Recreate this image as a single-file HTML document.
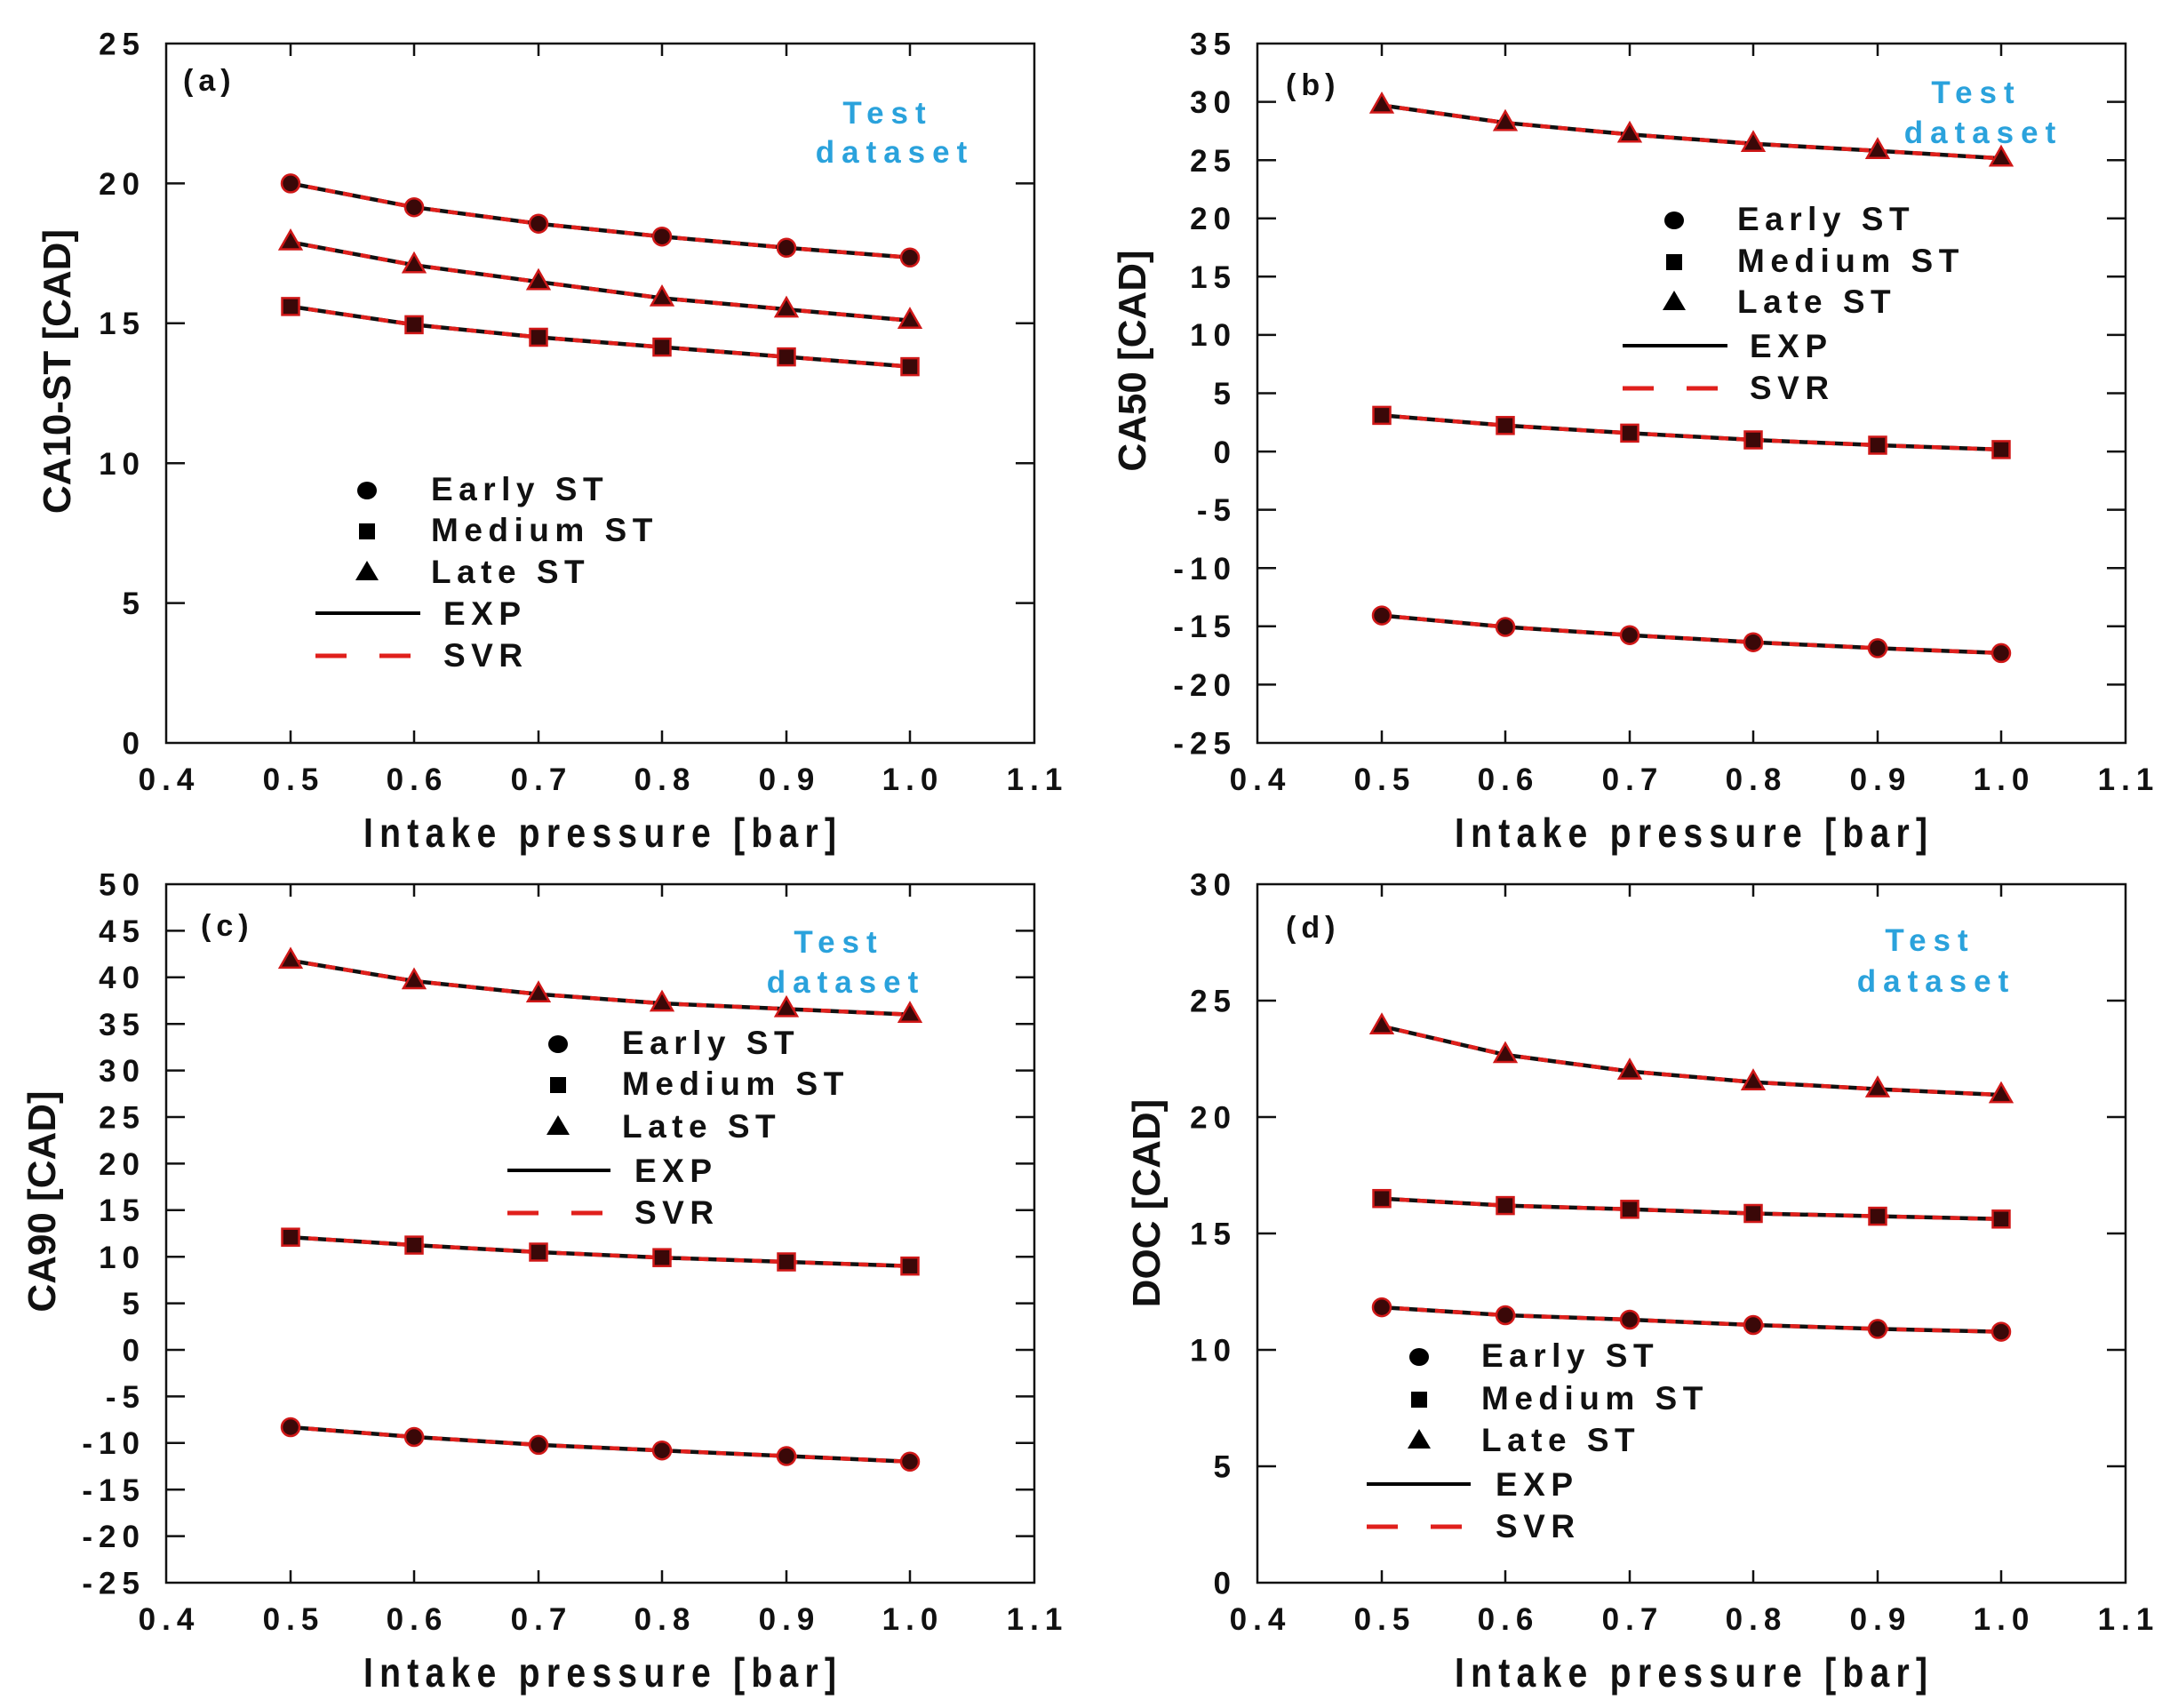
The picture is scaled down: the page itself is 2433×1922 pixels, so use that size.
<!DOCTYPE html>
<html><head><meta charset="utf-8"><style>
html,body{margin:0;padding:0;background:#fff;}
svg{display:block;}
text{font-family:"Liberation Sans",Arial,sans-serif;font-weight:bold;fill:#111;}
.t text{font-size:35px;letter-spacing:7px;}
.lg text{font-size:37px;letter-spacing:6.5px;}
.ts text{font-size:35px;letter-spacing:8px;fill:#2aa2dc;}
text.pl{font-size:34px;letter-spacing:6px;}
text.ax{font-size:46px;}
text.ay{font-size:44px;}
.fr{fill:none;stroke:#111;stroke-width:2.5;}
.tk{stroke:#111;stroke-width:2.5;fill:none;}
.lb{fill:none;stroke:#111;stroke-width:4.5;}
.lr{fill:none;stroke:#e0201c;stroke-width:4.5;stroke-dasharray:11 9;}
</style></head><body>
<svg width="2433" height="1922" viewBox="0 0 2433 1922" xmlns="http://www.w3.org/2000/svg">
<defs>
<circle id="mc" r="10" fill="#3a0808" stroke="#d01818" stroke-width="2.5"/>
<rect id="ms" x="-9.5" y="-9.5" width="19" height="19" fill="#3a0808" stroke="#d01818" stroke-width="2.5"/>
<polygon id="mt" points="0,-13 12,8 -12,8" fill="#3a0808" stroke="#d01818" stroke-width="2.5"/>
<ellipse id="lc" rx="11" ry="10" fill="#000"/>
<rect id="ls" x="-9" y="-9" width="18" height="18" fill="#000"/>
<polygon id="lt" points="0,-12 13,10 -13,10" fill="#000"/>
</defs>
<rect width="2433" height="1922" fill="#fff"/>

<!-- ================= PANEL A ================= -->
<rect class="fr" x="187" y="49" width="977" height="787"/>
<path class="tk" d="M327 836v-14M466 836v-14M606 836v-14M745 836v-14M885 836v-14M1024 836v-14M327 49v14M466 49v14M606 49v14M745 49v14M885 49v14M1024 49v14M187 678.6h21M187 521.2h21M187 363.8h21M187 206.4h21M1164 678.6h-21M1164 521.2h-21M1164 363.8h-21M1164 206.4h-21"/>
<g class="t" text-anchor="end">
<text x="164" y="61.5">25</text><text x="164" y="219">20</text><text x="164" y="376">15</text><text x="164" y="534">10</text><text x="164" y="691">5</text><text x="164" y="848.5">0</text>
</g>
<g class="t" text-anchor="middle">
<text x="190.5" y="889">0.4</text><text x="330.5" y="889">0.5</text><text x="469.5" y="889">0.6</text><text x="609.5" y="889">0.7</text><text x="748.5" y="889">0.8</text><text x="888.5" y="889">0.9</text><text x="1027.5" y="889">1.0</text><text x="1167.5" y="889">1.1</text>
</g>
<text class="ax" transform="translate(675,953) scale(0.85,1)" text-anchor="middle" textLength="626" lengthAdjust="spacing">Intake pressure [bar]</text>
<text class="ay" transform="translate(79,418) rotate(-90)" text-anchor="middle">CA10-ST [CAD]</text>
<text class="pl" x="206" y="102">(a)</text>
<g class="ts" text-anchor="middle"><text x="999" y="139">Test</text><text x="1007" y="183">dataset</text></g>
<path class="lb" d="M327 206.4L466 233.2L606 251.7L745 266.2L885 278.8L1024 289.8"/>
<path class="lr" d="M327 206.4L466 233.2L606 251.7L745 266.2L885 278.8L1024 289.8"/>
<path class="lb" d="M327 272.5L466 298.3L606 317.2L745 335.5L885 348.1L1024 360.7"/>
<path class="lr" d="M327 272.5L466 298.3L606 317.2L745 335.5L885 348.1L1024 360.7"/>
<path class="lb" d="M327 344.9L466 365.4L606 379.5L745 390.6L885 401.6L1024 412.6"/>
<path class="lr" d="M327 344.9L466 365.4L606 379.5L745 390.6L885 401.6L1024 412.6"/>
<use href="#mc" x="327" y="206.4"/><use href="#mc" x="466" y="233.2"/><use href="#mc" x="606" y="251.7"/><use href="#mc" x="745" y="266.2"/><use href="#mc" x="885" y="278.8"/><use href="#mc" x="1024" y="289.8"/>
<use href="#mt" x="327" y="272.5"/><use href="#mt" x="466" y="298.3"/><use href="#mt" x="606" y="317.2"/><use href="#mt" x="745" y="335.5"/><use href="#mt" x="885" y="348.1"/><use href="#mt" x="1024" y="360.7"/>
<use href="#ms" x="327" y="344.9"/><use href="#ms" x="466" y="365.4"/><use href="#ms" x="606" y="379.5"/><use href="#ms" x="745" y="390.6"/><use href="#ms" x="885" y="401.6"/><use href="#ms" x="1024" y="412.6"/>
<!-- legend a -->
<use href="#lc" x="413" y="552"/><use href="#ls" x="413" y="598"/><use href="#lt" x="413" y="643"/>
<path d="M355 690H473" stroke="#000" stroke-width="4" fill="none"/>
<path d="M355 738H463" stroke="#e0201c" stroke-width="5" stroke-dasharray="35 37" fill="none"/>
<g class="lg"><text x="485" y="563">Early ST</text><text x="485" y="609">Medium ST</text><text x="485" y="656">Late ST</text><text x="499" y="703">EXP</text><text x="499" y="750">SVR</text></g>

<!-- ================= PANEL B ================= -->
<rect class="fr" x="1415" y="49" width="977" height="787"/>
<path class="tk" d="M1555 836v-14M1694 836v-14M1834 836v-14M1973 836v-14M2113 836v-14M2252 836v-14M1555 49v14M1694 49v14M1834 49v14M1973 49v14M2113 49v14M2252 49v14M1415 114.6h21M1415 180.2h21M1415 245.8h21M1415 311.3h21M1415 376.9h21M1415 442.5h21M1415 508.1h21M1415 573.6h21M1415 639.2h21M1415 704.8h21M1415 770.4h21M2392 114.6h-21M2392 180.2h-21M2392 245.8h-21M2392 311.3h-21M2392 376.9h-21M2392 442.5h-21M2392 508.1h-21M2392 573.6h-21M2392 639.2h-21M2392 704.8h-21M2392 770.4h-21"/>
<g class="t" text-anchor="end">
<text x="1392" y="61.5">35</text><text x="1392" y="127">30</text><text x="1392" y="193">25</text><text x="1392" y="258">20</text><text x="1392" y="324">15</text><text x="1392" y="389">10</text><text x="1392" y="455">5</text><text x="1392" y="521">0</text><text x="1392" y="586">-5</text><text x="1392" y="652">-10</text><text x="1392" y="717">-15</text><text x="1392" y="783">-20</text><text x="1392" y="848.5">-25</text>
</g>
<g class="t" text-anchor="middle">
<text x="1418.5" y="889">0.4</text><text x="1558.5" y="889">0.5</text><text x="1697.5" y="889">0.6</text><text x="1837.5" y="889">0.7</text><text x="1976.5" y="889">0.8</text><text x="2116.5" y="889">0.9</text><text x="2255.5" y="889">1.0</text><text x="2395.5" y="889">1.1</text>
</g>
<text class="ax" transform="translate(1903,953) scale(0.85,1)" text-anchor="middle" textLength="626" lengthAdjust="spacing">Intake pressure [bar]</text>
<text class="ay" transform="translate(1289,406) rotate(-90)" text-anchor="middle">CA50 [CAD]</text>
<text class="pl" x="1447" y="107">(b)</text>
<g class="ts" text-anchor="middle"><text x="2224" y="116">Test</text><text x="2232" y="161">dataset</text></g>
<path class="lb" d="M1555 118.5L1694 138.2L1834 151.3L1973 161.8L2113 169.7L2252 178.2"/>
<path class="lr" d="M1555 118.5L1694 138.2L1834 151.3L1973 161.8L2113 169.7L2252 178.2"/>
<path class="lb" d="M1555 467.4L1694 478.8L1834 487.4L1973 495L2113 501L2252 505.9"/>
<path class="lr" d="M1555 467.4L1694 478.8L1834 487.4L1973 495L2113 501L2252 505.9"/>
<path class="lb" d="M1555 692.6L1694 705.5L1834 714.7L1973 722.7L2113 729.4L2252 734.9"/>
<path class="lr" d="M1555 692.6L1694 705.5L1834 714.7L1973 722.7L2113 729.4L2252 734.9"/>
<use href="#mt" x="1555" y="118.5"/><use href="#mt" x="1694" y="138.2"/><use href="#mt" x="1834" y="151.3"/><use href="#mt" x="1973" y="161.8"/><use href="#mt" x="2113" y="169.7"/><use href="#mt" x="2252" y="178.2"/>
<use href="#ms" x="1555" y="467.4"/><use href="#ms" x="1694" y="478.8"/><use href="#ms" x="1834" y="487.4"/><use href="#ms" x="1973" y="495"/><use href="#ms" x="2113" y="501"/><use href="#ms" x="2252" y="505.9"/>
<use href="#mc" x="1555" y="692.6"/><use href="#mc" x="1694" y="705.5"/><use href="#mc" x="1834" y="714.7"/><use href="#mc" x="1973" y="722.7"/><use href="#mc" x="2113" y="729.4"/><use href="#mc" x="2252" y="734.9"/>
<!-- legend b -->
<use href="#lc" x="1884" y="248"/><use href="#ls" x="1884" y="295"/><use href="#lt" x="1884" y="339"/>
<path d="M1826 389H1944" stroke="#000" stroke-width="4" fill="none"/>
<path d="M1826 437H1934" stroke="#e0201c" stroke-width="5" stroke-dasharray="35 37" fill="none"/>
<g class="lg"><text x="1955" y="259">Early ST</text><text x="1955" y="306">Medium ST</text><text x="1955" y="352">Late ST</text><text x="1969" y="402">EXP</text><text x="1969" y="449">SVR</text></g>

<!-- ================= PANEL C ================= -->
<rect class="fr" x="187" y="995" width="977" height="786"/>
<path class="tk" d="M327 1781v-14M466 1781v-14M606 1781v-14M745 1781v-14M885 1781v-14M1024 1781v-14M327 995v14M466 995v14M606 995v14M745 995v14M885 995v14M1024 995v14M187 1047.4h21M187 1099.8h21M187 1152.2h21M187 1204.6h21M187 1257h21M187 1309.4h21M187 1361.8h21M187 1414.2h21M187 1466.6h21M187 1519h21M187 1571.4h21M187 1623.8h21M187 1676.2h21M187 1728.6h21M1164 1047.4h-21M1164 1099.8h-21M1164 1152.2h-21M1164 1204.6h-21M1164 1257h-21M1164 1309.4h-21M1164 1361.8h-21M1164 1414.2h-21M1164 1466.6h-21M1164 1519h-21M1164 1571.4h-21M1164 1623.8h-21M1164 1676.2h-21M1164 1728.6h-21"/>
<g class="t" text-anchor="end">
<text x="164" y="1007.5">50</text><text x="164" y="1060">45</text><text x="164" y="1112">40</text><text x="164" y="1165">35</text><text x="164" y="1217">30</text><text x="164" y="1269.5">25</text><text x="164" y="1322">20</text><text x="164" y="1374">15</text><text x="164" y="1427">10</text><text x="164" y="1479">5</text><text x="164" y="1531.5">0</text><text x="164" y="1584">-5</text><text x="164" y="1636">-10</text><text x="164" y="1689">-15</text><text x="164" y="1741">-20</text><text x="164" y="1793.5">-25</text>
</g>
<g class="t" text-anchor="middle">
<text x="190.5" y="1834">0.4</text><text x="330.5" y="1834">0.5</text><text x="469.5" y="1834">0.6</text><text x="609.5" y="1834">0.7</text><text x="748.5" y="1834">0.8</text><text x="888.5" y="1834">0.9</text><text x="1027.5" y="1834">1.0</text><text x="1167.5" y="1834">1.1</text>
</g>
<text class="ax" transform="translate(675,1898) scale(0.85,1)" text-anchor="middle" textLength="626" lengthAdjust="spacing">Intake pressure [bar]</text>
<text class="ay" transform="translate(62,1352) rotate(-90)" text-anchor="middle">CA90 [CAD]</text>
<text class="pl" x="226" y="1053">(c)</text>
<g class="ts" text-anchor="middle"><text x="944" y="1072">Test</text><text x="952" y="1117">dataset</text></g>
<path class="lb" d="M327 1080.9L466 1104L606 1118.7L745 1129.1L885 1135.4L1024 1141.7"/>
<path class="lr" d="M327 1080.9L466 1104L606 1118.7L745 1129.1L885 1135.4L1024 1141.7"/>
<path class="lb" d="M327 1392.2L466 1401.1L606 1409L745 1415.2L885 1420L1024 1424.7"/>
<path class="lr" d="M327 1392.2L466 1401.1L606 1409L745 1415.2L885 1420L1024 1424.7"/>
<path class="lb" d="M327 1606L466 1617L606 1625.9L745 1632.2L885 1638.5L1024 1644.8"/>
<path class="lr" d="M327 1606L466 1617L606 1625.9L745 1632.2L885 1638.5L1024 1644.8"/>
<use href="#mt" x="327" y="1080.9"/><use href="#mt" x="466" y="1104"/><use href="#mt" x="606" y="1118.7"/><use href="#mt" x="745" y="1129.1"/><use href="#mt" x="885" y="1135.4"/><use href="#mt" x="1024" y="1141.7"/>
<use href="#ms" x="327" y="1392.2"/><use href="#ms" x="466" y="1401.1"/><use href="#ms" x="606" y="1409"/><use href="#ms" x="745" y="1415.2"/><use href="#ms" x="885" y="1420"/><use href="#ms" x="1024" y="1424.7"/>
<use href="#mc" x="327" y="1606"/><use href="#mc" x="466" y="1617"/><use href="#mc" x="606" y="1625.9"/><use href="#mc" x="745" y="1632.2"/><use href="#mc" x="885" y="1638.5"/><use href="#mc" x="1024" y="1644.8"/>
<!-- legend c -->
<use href="#lc" x="628" y="1175"/><use href="#ls" x="628" y="1221"/><use href="#lt" x="628" y="1267"/>
<path d="M571 1317H687" stroke="#000" stroke-width="4" fill="none"/>
<path d="M571 1365H679" stroke="#e0201c" stroke-width="5" stroke-dasharray="35 37" fill="none"/>
<g class="lg"><text x="700" y="1186">Early ST</text><text x="700" y="1232">Medium ST</text><text x="700" y="1280">Late ST</text><text x="714" y="1330">EXP</text><text x="714" y="1377">SVR</text></g>

<!-- ================= PANEL D ================= -->
<rect class="fr" x="1415" y="995" width="977" height="786"/>
<path class="tk" d="M1555 1781v-14M1694 1781v-14M1834 1781v-14M1973 1781v-14M2113 1781v-14M2252 1781v-14M1555 995v14M1694 995v14M1834 995v14M1973 995v14M2113 995v14M2252 995v14M1415 1126h21M1415 1257h21M1415 1388h21M1415 1519h21M1415 1650h21M2392 1126h-21M2392 1257h-21M2392 1388h-21M2392 1519h-21M2392 1650h-21"/>
<g class="t" text-anchor="end">
<text x="1392" y="1007.5">30</text><text x="1392" y="1138.5">25</text><text x="1392" y="1269.5">20</text><text x="1392" y="1400.5">15</text><text x="1392" y="1531.5">10</text><text x="1392" y="1662.5">5</text><text x="1392" y="1793.5">0</text>
</g>
<g class="t" text-anchor="middle">
<text x="1418.5" y="1834">0.4</text><text x="1558.5" y="1834">0.5</text><text x="1697.5" y="1834">0.6</text><text x="1837.5" y="1834">0.7</text><text x="1976.5" y="1834">0.8</text><text x="2116.5" y="1834">0.9</text><text x="2255.5" y="1834">1.0</text><text x="2395.5" y="1834">1.1</text>
</g>
<text class="ax" transform="translate(1903,1898) scale(0.85,1)" text-anchor="middle" textLength="626" lengthAdjust="spacing">Intake pressure [bar]</text>
<text class="ay" transform="translate(1305,1354) rotate(-90)" text-anchor="middle">DOC [CAD]</text>
<text class="pl" x="1447" y="1055">(d)</text>
<g class="ts" text-anchor="middle"><text x="2172" y="1070">Test</text><text x="2179" y="1116">dataset</text></g>
<path class="lb" d="M1555 1154.8L1694 1187L1834 1205.6L1973 1217.7L2113 1225.6L2252 1232.1"/>
<path class="lr" d="M1555 1154.8L1694 1187L1834 1205.6L1973 1217.7L2113 1225.6L2252 1232.1"/>
<path class="lb" d="M1555 1348.7L1694 1356.6L1834 1360.8L1973 1365.5L2113 1368.6L2252 1371.8"/>
<path class="lr" d="M1555 1348.7L1694 1356.6L1834 1360.8L1973 1365.5L2113 1368.6L2252 1371.8"/>
<path class="lb" d="M1555 1471.1L1694 1480L1834 1485L1973 1491L2113 1495.4L2252 1498.6"/>
<path class="lr" d="M1555 1471.1L1694 1480L1834 1485L1973 1491L2113 1495.4L2252 1498.6"/>
<use href="#mt" x="1555" y="1154.8"/><use href="#mt" x="1694" y="1187"/><use href="#mt" x="1834" y="1205.6"/><use href="#mt" x="1973" y="1217.7"/><use href="#mt" x="2113" y="1225.6"/><use href="#mt" x="2252" y="1232.1"/>
<use href="#ms" x="1555" y="1348.7"/><use href="#ms" x="1694" y="1356.6"/><use href="#ms" x="1834" y="1360.8"/><use href="#ms" x="1973" y="1365.5"/><use href="#ms" x="2113" y="1368.6"/><use href="#ms" x="2252" y="1371.8"/>
<use href="#mc" x="1555" y="1471.1"/><use href="#mc" x="1694" y="1480"/><use href="#mc" x="1834" y="1485"/><use href="#mc" x="1973" y="1491"/><use href="#mc" x="2113" y="1495.4"/><use href="#mc" x="2252" y="1498.6"/>
<!-- legend d -->
<use href="#lc" x="1597" y="1527"/><use href="#ls" x="1597" y="1575"/><use href="#lt" x="1597" y="1620"/>
<path d="M1538 1670H1655" stroke="#000" stroke-width="4" fill="none"/>
<path d="M1538 1718H1646" stroke="#e0201c" stroke-width="5" stroke-dasharray="35 37" fill="none"/>
<g class="lg"><text x="1667" y="1538">Early ST</text><text x="1667" y="1586">Medium ST</text><text x="1667" y="1633">Late ST</text><text x="1683" y="1683">EXP</text><text x="1683" y="1730">SVR</text></g>
</svg>
</body></html>
